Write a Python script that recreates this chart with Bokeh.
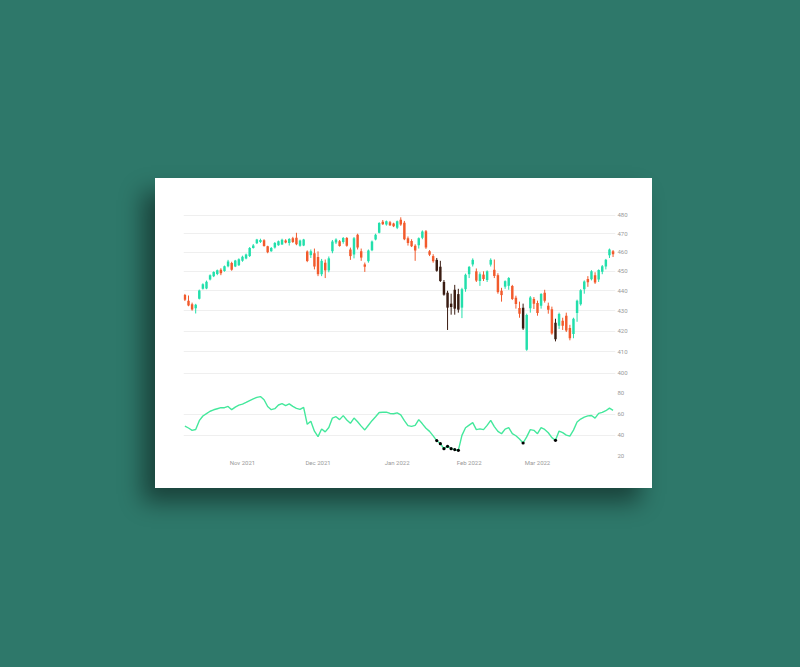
import pandas as pd
from bokeh.plotting import figure
from bokeh.layouts import column
from bokeh.models import (ColumnDataSource, FixedTicker, Range1d, PrintfTickFormatter,
                          GlobalInlineStyleSheet)
from bokeh.embed import file_html
from bokeh.resources import INLINE

# ---------------- data ----------------
HOLIDAYS = ["2021-11-25", "2021-12-24", "2022-01-17", "2022-02-21"]
dates = [d for d in pd.bdate_range("2021-10-08", "2022-03-30")
         if d.strftime("%Y-%m-%d") not in HOLIDAYS]

opens = [437.8, 435.0, 433.2, 431.2, 436.0, 441.0, 441.2, 445.8, 447.5, 448.6,
         450.8, 450.2, 452.6, 454.3, 452.5, 453.2, 455.5, 456.7, 458.0, 462.3,
         464.8, 465.5, 466.4, 463.2, 460.6, 462.5, 463.8, 464.2, 466.3, 465.0,
         467.5, 467.8, 463.5, 463.6, 460.4, 458.5, 459.5, 457.5, 448.5, 454.5,
         450.5, 460.5, 465.2, 465.9, 465.5, 467.7, 461.5, 458.8, 469.4, 460.5,
         453.6, 455.3, 461.1, 466.8, 470.5, 476.5, 475.0, 476.2, 475.6, 473.3,
         477.6, 476.0, 467.5, 466.0, 463.5, 463.8, 467.8, 471.3, 460.5, 458.0,
         456.0, 452.4, 444.5, 431.5, 433.5, 440.5, 438.3, 431.5, 440.8, 448.5,
         453.6, 450.0, 445.0, 448.3, 445.5, 453.5, 450.8, 448.0, 440.0, 442.1,
         442.5, 442.4, 436.5, 431.3, 431.5, 411.0, 431.2, 435.8, 433.8, 432.4,
         439.0, 432.5, 430.7, 424.0, 422.6, 425.0, 427.5, 421.5, 418.5, 428.8,
         433.2, 440.8, 446.0, 445.9, 448.0, 445.8, 449.8, 452.5, 458.4, 460.5]
highs = [438.4, 437.6, 434.0, 433.4, 440.6, 443.8, 445.2, 448.4, 450.0, 450.9,
         451.6, 453.0, 456.0, 455.0, 456.0, 456.8, 458.2, 459.3, 462.8, 464.4,
         467.2, 467.3, 467.0, 463.5, 462.8, 465.5, 466.3, 467.3, 467.0, 467.6,
         468.3, 470.5, 466.8, 467.2, 461.0, 461.5, 462.0, 460.5, 456.5, 456.2,
         457.8, 466.6, 467.5, 466.6, 468.2, 468.2, 462.5, 468.2, 470.0, 462.0,
         454.6, 461.5, 466.3, 470.0, 476.3, 477.5, 477.2, 477.0, 476.0, 477.2,
         479.0, 477.0, 468.5, 467.0, 464.3, 468.0, 471.8, 472.0, 461.2, 459.0,
         457.0, 455.5, 445.5, 440.0, 438.5, 443.0, 441.0, 441.5, 448.8, 452.8,
         456.8, 451.5, 449.5, 450.0, 450.5, 456.8, 456.2, 449.0, 441.5, 445.3,
         447.0, 443.0, 437.5, 434.5, 433.5, 428.5, 437.3, 436.8, 435.0, 438.8,
         440.5, 434.0, 432.0, 426.0, 429.0, 426.5, 429.0, 423.0, 426.5, 435.5,
         440.8, 445.3, 447.5, 450.6, 449.5, 451.0, 453.3, 456.5, 462.0, 461.2]
lows = [434.8, 432.2, 430.0, 428.6, 435.6, 440.6, 440.8, 445.3, 447.0, 448.0,
        448.0, 449.8, 452.1, 450.3, 452.2, 452.8, 455.0, 456.3, 457.5, 462.0,
        464.4, 465.0, 463.0, 459.5, 460.3, 462.0, 463.5, 464.0, 464.8, 463.6,
        465.0, 463.8, 463.0, 463.3, 454.8, 457.0, 451.0, 447.5, 447.5, 446.5,
        449.5, 459.5, 464.4, 463.0, 464.6, 463.0, 456.0, 456.8, 461.5, 455.5,
        449.7, 454.5, 460.6, 466.4, 470.2, 474.8, 474.4, 474.2, 473.6, 472.5,
        474.3, 466.5, 463.6, 462.8, 455.5, 462.0, 467.0, 461.8, 458.0, 454.5,
        449.8, 444.5, 437.5, 420.5, 428.0, 428.0, 429.0, 426.3, 439.5, 446.5,
        452.5, 444.5, 442.5, 445.0, 444.5, 452.5, 446.5, 438.5, 434.5, 441.0,
        440.5, 435.3, 431.0, 426.5, 420.5, 410.5, 429.0, 430.8, 427.5, 431.0,
        434.0, 428.5, 418.2, 415.0, 421.0, 420.5, 419.5, 415.5, 416.5, 424.5,
        432.5, 438.5, 442.0, 445.3, 443.5, 444.5, 448.5, 451.0, 457.0, 457.5]
closes = [435.4, 432.6, 430.6, 433.0, 440.1, 443.3, 444.6, 447.9, 449.6, 450.5,
          449.0, 452.7, 455.2, 450.8, 455.6, 456.3, 457.6, 458.8, 462.3, 463.7,
          466.8, 466.6, 463.4, 460.0, 462.3, 465.0, 465.9, 466.7, 465.2, 467.1,
          465.5, 464.3, 466.3, 466.8, 455.4, 460.5, 452.5, 448.5, 455.5, 450.5,
          456.8, 465.8, 466.8, 463.4, 467.7, 463.5, 458.0, 467.6, 462.5, 457.2,
          452.4, 461.0, 465.8, 469.4, 475.8, 475.1, 476.8, 474.6, 474.0, 476.8,
          475.0, 467.0, 465.0, 463.3, 461.0, 467.6, 471.2, 462.5, 458.7, 455.3,
          450.3, 445.0, 438.0, 439.0, 431.8, 431.0, 430.5, 440.8, 448.2, 452.3,
          456.0, 445.2, 448.5, 446.0, 450.0, 456.0, 447.6, 439.3, 437.8, 444.9,
          446.5, 435.8, 433.3, 428.4, 421.2, 427.8, 436.6, 433.5, 428.8, 438.3,
          435.0, 430.5, 418.8, 416.0, 428.3, 422.5, 420.3, 416.5, 426.0, 434.9,
          440.3, 444.7, 444.3, 450.0, 444.2, 450.7, 452.7, 456.0, 461.5, 459.0]
rsi = [48.9, 47.0, 44.8, 45.6, 54.0, 58.5, 60.8, 63.0, 64.4, 65.4,
       66.4, 66.4, 67.6, 64.5, 67.0, 68.8, 69.8, 71.4, 73.2, 74.8,
       76.2, 77.0, 74.0, 67.5, 64.5, 65.5, 69.0, 70.2, 68.3, 70.0,
       67.6, 65.8, 64.8, 66.8, 50.5, 53.5, 44.0, 38.8, 46.0, 43.3,
       47.5, 56.5, 57.8, 55.0, 58.8, 54.6, 51.5, 56.5, 53.0, 48.8,
       45.2, 49.6, 54.0, 57.8, 61.8, 62.0, 62.2, 60.9, 60.6, 61.5,
       59.5, 54.0, 49.3, 48.5, 49.5, 55.0, 51.0, 46.8, 43.8, 39.5,
       35.0, 32.0, 27.3, 29.5, 27.3, 26.4, 25.7, 40.0, 47.3, 49.8,
       52.2, 45.5, 46.2, 45.5, 49.5, 54.3, 48.4, 43.8, 41.5, 46.0,
       47.3, 41.6, 39.6, 36.5, 32.7, 38.5, 45.5, 44.8, 41.6, 47.3,
       45.6, 42.5, 37.8, 35.2, 44.1, 42.6, 40.2, 39.2, 45.0, 52.7,
       55.6, 57.4, 58.6, 59.0, 56.5, 61.0, 61.9, 63.5, 66.0, 63.8]

OVERSOLD = 36
price_ticks = [400, 410, 420, 430, 440, 450, 460, 470, 480]
rsi_ticks = [20, 40, 60, 80]
rsi_grid = [40, 60]

# ---------------- styling ----------------
BG = "#2e786a"
UP = "#22dfab"
DOWN = "#f25a2c"
DARK = "#3a1c12"
RSI_COLOR = "#44e89c"
LABEL = "#9a9a9a"
FONT = "Roboto"

n = len(dates)
xs = list(range(n))
colors = []
for o, c, r in zip(opens, closes, rsi):
    if r < OVERSOLD:
        colors.append(DARK)
    elif c >= o:
        colors.append(UP)
    else:
        colors.append(DOWN)

src = ColumnDataSource(dict(
    x=xs, open=opens, high=highs, low=lows, close=closes,
    top=[max(o, c) for o, c in zip(opens, closes)],
    bottom=[min(o, c) for o, c in zip(opens, closes)],
    color=colors, rsi=rsi))
os_idx = [i for i in xs if rsi[i] < OVERSOLD]
src_os = ColumnDataSource(dict(x=os_idx, rsi=[rsi[i] for i in os_idx]))

month_ticks = [i for i in range(1, n) if dates[i].month != dates[i - 1].month]
month_labels = {i: dates[i].strftime("%b %Y") for i in month_ticks}

x_range = Range1d(-0.39, 119.68)

common = dict(width=497, output_backend="svg", toolbar_location=None,
              min_border_left=28, min_border_right=37,
              outline_line_color=None, background_fill_color="white",
              border_fill_color="white", y_axis_location="right")

p1 = figure(height=205, y_axis_type="log", x_range=x_range,
            y_range=Range1d(395.27, 492.36), x_axis_location=None,
            min_border_top=15, min_border_bottom=0, **common)
p1.segment(x0="x", y0="low", x1="x", y1="high", line_color="color",
           line_width=1, source=src)
p1.vbar(x="x", width=0.68, top="top", bottom="bottom", fill_color="color",
        line_color=None, source=src)
p1.yaxis.ticker = FixedTicker(ticks=price_ticks)
p1.yaxis.formatter = PrintfTickFormatter(format="%d")
p1.ygrid.ticker = FixedTicker(ticks=price_ticks)
p1.xgrid.visible = False

p2 = figure(height=105, x_range=x_range, y_range=Range1d(19.8, 89.5),
            min_border_top=0, min_border_bottom=32, **common)
p2.line(x="x", y="rsi", line_color=RSI_COLOR, line_width=1.4, source=src)
p2.scatter(x="x", y="rsi", size=3.2, fill_color="black", line_color=None,
           source=src_os)
p2.yaxis.ticker = FixedTicker(ticks=rsi_ticks)
p2.ygrid.ticker = FixedTicker(ticks=rsi_grid)
p2.xgrid.visible = False
p2.xaxis.ticker = FixedTicker(ticks=month_ticks)
p2.xaxis.major_label_overrides = month_labels

for p in (p1, p2):
    p.ygrid.grid_line_color = "#efefef"
    p.ygrid.grid_line_width = 1
    for ax in p.axis:
        ax.axis_line_color = None
        ax.major_tick_line_color = None
        ax.minor_tick_line_color = None
        ax.major_tick_out = 0
        ax.major_label_text_font = FONT
        ax.major_label_text_font_size = "6px"
        ax.major_label_text_color = LABEL
        ax.major_label_standoff = 2

card = column(p1, p2, spacing=0)
card.margin = (178, 0, 0, 155)
card.styles = {"background-color": "white",
               "box-shadow": "-12px 14px 22px rgba(0,0,0,0.45)"}
card.stylesheets = [GlobalInlineStyleSheet(css=f"html, body {{ background: {BG}; }}")]

open("out.html", "w").write(file_html(card, INLINE))
